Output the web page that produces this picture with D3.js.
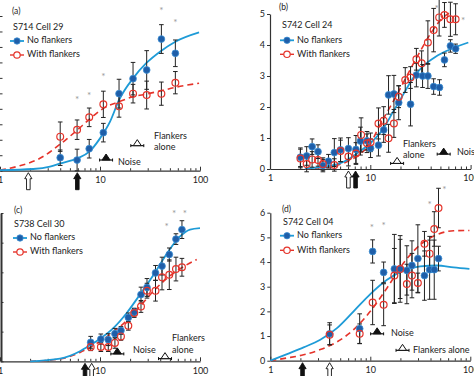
<!DOCTYPE html>
<html>
<head>
<meta charset="utf-8">
<script src="https://cdn.jsdelivr.net/npm/d3@7"></script>
<style>
body { margin: 0; background: #fff; }
text { font-family: Lato, "Open Sans", sans-serif; fill: #222; }
</style>
</head>
<body>
<svg id="chart" width="474" height="376"></svg>
<script>
// ---- text ----
const panelTags = ['(a)', '(b)', '(c)', '(d)'];
const cellNames = ['S714 Cell 29', 'S742 Cell 24', 'S738 Cell 30', 'S742 Cell 04'];
const seriesNames = ['No flankers', 'With flankers'];
const xMajor = [1, 10, 100];
const xMinor = [2, 3, 4, 5, 6, 7, 8, 9, 20, 30, 40, 50, 60, 70, 80, 90];

// ---- (a) S714 Cell 29 ----
const aX = [4.0, 5.9, 7.8, 10.8, 15.5, 21.4, 29.3, 41.1, 56.7];
const aBlue = [0.84, 0.69, 1.42, 2.46, 4.98, 5.95, 6.51, 8.51, 7.59];
const aBlueErr = [0.5, 0.7, 0.6, 0.6, 0.93, 1.05, 1.25, 0.93, 0.86];
const aRed = [2.2, 2.65, 3.45, 4.29, 4.16, 4.98, 4.89, 4.98, 5.69];
const aRedErr = [0.95, 0.63, 0.6, 0.85, 0.7, 0.6, 0.9, 0.75, 0.72];
const aBlueCurve = [[1, 0.04], [2.15, 0.11], [3.16, 0.26], [4.01, 0.47], [5.93, 0.8], [7.82, 1.23], [10, 2.09], [12.6, 3.17], [15.5, 4.57], [21.4, 5.97], [29.3, 6.98], [41.1, 7.76], [56.7, 8.34], [97.9, 8.94]];
const aRedCurve = [[1, 0.04], [1.58, 0.32], [2.51, 0.8], [4.01, 1.72], [5.93, 2.63], [7.82, 3.32], [10.8, 4.03], [15.5, 4.46], [21.4, 4.78], [29.3, 4.96], [41.1, 5.17], [56.7, 5.39], [97.9, 5.65]];
const aStarX = [5.9, 7.8, 10.8, 41.1, 56.7];
const aStarY = [4.61, 4.89, 6.12, 10.39, 9.59];
const aArrows = [[1.92, 'open'], [5.93, 'filled']];
const aNoise = [11.5, 0.69];
const aFlankers = [23.6, 1.62];

// ---- (b) S742 Cell 24 ----
const bBlueX = [2.01, 2.32, 2.63, 3.01, 3.37, 3.83, 4.38, 5.05, 6.05, 7.19, 7.98, 9.27, 10.06, 12.06, 13.6, 15.2, 17.2, 19.2, 25.2, 28.8, 33.2, 37.5, 42.8, 49.0, 54.9, 62.9, 70.9];
const bBlue = [0.38, 0.42, 0.72, 0.56, 0.11, 0.25, 0.53, 0.62, 0.66, 0.63, 0.9, 0.91, 0.67, 0.77, 1.26, 2.39, 2.42, 2.14, 2.09, 3.03, 3.0, 3.0, 2.66, 2.63, 3.52, 3.97, 3.88];
const bBlueErr = [0.3, 0.3, 0.25, 0.22, 0.2, 0.22, 0.45, 0.38, 0.35, 0.45, 0.45, 0.3, 0.3, 0.35, 0.4, 0.62, 0.6, 0.55, 0.7, 0.38, 0.37, 0.4, 0.25, 0.25, 0.22, 0.2, 0.15];
const bRedX = [2.01, 2.32, 2.63, 3.01, 3.37, 4.38, 5.05, 6.05, 7.19, 8.1, 9.27, 10.06, 12.06, 13.6, 15.2, 17.2, 19.2, 22.3, 25.2, 28.8, 32.5, 37.5, 42.8, 48.6, 54.9, 62.9, 70.9];
const bRed = [0.34, 0.16, 0.31, 0.29, 0.16, 0.13, 0.58, 0.4, 0.5, 1.1, 0.83, 0.86, 1.47, 1.56, 0.99, 1.47, 2.33, 2.87, 2.95, 3.54, 3.41, 4.08, 4.48, 4.89, 4.97, 4.83, 4.83];
const bRedErr = [0.3, 0.25, 0.25, 0.2, 0.2, 0.2, 0.35, 0.3, 0.35, 0.55, 0.3, 0.3, 0.5, 0.45, 0.45, 0.45, 0.35, 0.4, 0.35, 0.35, 0.4, 0.7, 0.7, 0.6, 0.4, 0.55, 0.5];
const bBlueCurve = [[2.23, 0.02], [3.5, 0.08], [4.73, 0.16], [5.9, 0.29], [7.4, 0.51], [10, 0.83], [13.5, 1.31], [16.9, 1.85], [21.2, 2.39], [26.5, 2.92], [33.2, 3.3], [44.8, 3.62], [60.6, 3.84], [94.9, 4.08]];
const bRedCurve = [[2.23, 0.01], [4.06, 0.08], [5.9, 0.24], [7.98, 0.5], [10, 0.81], [11.97, 1.31], [14.5, 1.8], [18.0, 2.33], [22.8, 2.96], [31.2, 3.78], [41.1, 4.43], [52.0, 4.86], [65.3, 5.08]];
const bStarX = [45.9, 84.3];
const bStarY = [5.19, 4.8];
const bArrows = [[6.05, 'open'], [7.13, 'filled']];
const bNoise = [53.9, 0.48];
const bFlankers = [18.5, 0.18];

// ---- (c) S738 Cell 30 ----
const cX = [8.07, 10.2, 12.1, 14.1, 16.2, 19.2, 22.0, 25.7, 29.5, 35.9, 41.7, 49.3, 57.5, 66.0];
const cBlue = [0.64, 0.75, 0.73, 0.93, 1.04, 1.48, 1.66, 2.25, 2.49, 2.98, 3.21, 3.6, 4.12, 4.44];
const cBlueErr = [0.2, 0.17, 0.2, 0.18, 0.13, 0.15, 0.13, 0.25, 0.3, 0.25, 0.3, 0.22, 0.18, 0.3];
const cRed = [0.48, 0.48, 0.48, 0.62, 0.84, 1.2, 1.63, 1.85, 2.38, 2.38, 2.83, 2.92, 3.11, 3.17];
const cRedErr = [0.12, 0.15, 0.15, 0.18, 0.13, 0.15, 0.15, 0.2, 0.25, 0.35, 0.42, 0.5, 0.4, 0.3];
const cBlueCurve = [[2.0, 0], [3.98, 0.09], [6.31, 0.34], [7.94, 0.54], [10, 0.76], [13.6, 1.12], [18.5, 1.63], [25.1, 2.25], [34.1, 2.9], [46.4, 3.62], [63.1, 4.21], [79.4, 4.44], [100, 4.49]];
const cRedCurve = [[2.0, 0], [3.98, 0.08], [6.31, 0.3], [7.94, 0.47], [10, 0.67], [13.6, 0.99], [18.5, 1.37], [25.1, 1.85], [34.1, 2.36], [46.4, 2.79], [63.1, 3.12], [92.7, 3.43]];
const cStarX = [46.4, 55.0, 70.8];
const cStarY = [4.57, 5.0, 5.0];
const cArrows = [[7.08, 'filled'], [8.25, 'open']];
const cNoise = [14.9, 0.25];
const cFlankers = [44.7, 0.09];

// ---- (d) S742 Cell 04 ----
const dX = [3.92, 7.83, 10.55, 13.6, 17.4, 19.9, 23.2, 26.1, 29.9, 34.8, 39.2, 43.6, 48.1];
const dBlue = [1.09, 1.3, 4.43, 3.58, 3.72, 3.72, 3.66, 3.86, 4.14, 3.45, 3.69, 3.69, 4.14];
const dBlueErr = [0.45, 0.6, 0.47, 0.42, 1.4, 1.35, 1.0, 1.0, 1.37, 1.0, 1.2, 1.2, 0.5];
const dRed = [1.05, 1.09, 2.36, 2.27, 3.45, 3.72, 3.11, 3.45, 3.15, 4.74, 4.34, 5.34, 6.19];
const dRedErr = [0.4, 0.4, 0.9, 0.85, 1.1, 1.2, 0.8, 0.9, 0.4, 0.5, 0.7, 0.7, 0.8];
const dBlueCurve = [[1, 0], [1.47, 0.27], [2.15, 0.54], [3.16, 0.85], [4.64, 1.32], [6.81, 2.0], [10, 2.7], [14.7, 3.28], [21.5, 3.65], [31.6, 3.82], [46.4, 3.86], [68.1, 3.78], [98, 3.72]];
const dRedCurve = [[1, 0], [1.47, 0.11], [2.15, 0.24], [3.16, 0.45], [4.64, 0.76], [6.81, 1.26], [10, 2.0], [14.7, 2.95], [21.5, 3.96], [31.6, 4.7], [46.4, 5.11], [68.1, 5.27], [98, 5.28]];
const dStarX = [10.4, 13.6, 39.2, 55];
const dStarY = [5.42, 5.49, 6.35, 6.96];
const dArrows = [[2.1, 'filled'], [3.92, 'open']];
const dNoise = [11.7, 1.09];
const dFlankers = [21.0, 0.42];

const BLUE_LINE = '#1e9bd7', BLUE_DOT = '#1f5ea8', BLUE_RIM = '#3b8fd4', RED = '#e5332a';

const svg = d3.select('#chart');

// layout of each panel (pixel geometry + label spots)
const panels = [
  { tag: 0, x0: 0, x1: 200, yBase: 170.7, yTop: 16, yMax: 10, labels: false, yDomain: false,
    blueX: aX, blue: aBlue, blueErr: aBlueErr, redX: aX, red: aRed, redErr: aRedErr,
    blueCurve: aBlueCurve, redCurve: aRedCurve, starX: aStarX, starY: aStarY, arrows: aArrows,
    noise: aNoise, flankers: aFlankers,
    tagPos: [12, 12], namePos: [13, 28], legX: 10, legY: [41, 55],
    noiseText: [118, 163], flankText: [[154, 137, 'Flankers'], [154, 148, 'alone']] },
  { tag: 1, x0: 270, x1: 470.6, yBase: 169, yTop: 14, yMax: 5, labels: true, yDomain: true,
    blueX: bBlueX, blue: bBlue, blueErr: bBlueErr, redX: bRedX, red: bRed, redErr: bRedErr,
    blueCurve: bBlueCurve, redCurve: bRedCurve, starX: bStarX, starY: bStarY, arrows: bArrows,
    noise: bNoise, flankers: bFlankers,
    tagPos: [279, 8], namePos: [282, 26], legX: 280, legY: [40.3, 54.3],
    noiseText: [457, 153], flankText: [[403, 145, 'Flankers'], [403, 156, 'alone']] },
  { tag: 2, x0: 0, x1: 200, yBase: 361.3, yTop: 213, yMax: 5, labels: false, yDomain: true,
    blueX: cX, blue: cBlue, blueErr: cBlueErr, redX: cX, red: cRed, redErr: cRedErr,
    blueCurve: cBlueCurve, redCurve: cRedCurve, starX: cStarX, starY: cStarY, arrows: cArrows,
    noise: cNoise, flankers: cFlankers,
    tagPos: [14, 211], namePos: [14, 225], legX: 13, legY: [238, 252],
    noiseText: [133, 351], flankText: [[172, 339, 'Flankers'], [172, 350.5, 'alone']] },
  { tag: 3, x0: 270.3, x1: 470.3, yBase: 360.7, yTop: 212.7, yMax: 6, labels: true, yDomain: true,
    blueX: dX, blue: dBlue, blueErr: dBlueErr, redX: dX, red: dRed, redErr: dRedErr,
    blueCurve: dBlueCurve, redCurve: dRedCurve, starX: dStarX, starY: dStarY, arrows: dArrows,
    noise: dNoise, flankers: dFlankers,
    tagPos: [282, 210], namePos: [283, 223], legX: 280, legY: [235.7, 250.3],
    noiseText: [391, 334], flankText: [[413, 351, 'Flankers alone']] }
];

function drawPanel(p) {
  const g = svg.append('g');
  const x = d3.scaleLog().domain([1, 100]).range([p.x0, p.x1]);
  const y = d3.scaleLinear().domain([0, p.yMax]).range([p.yBase, p.yTop]);

  // x axis: labels below, ticks pointing up
  const xa = g.append('g').attr('transform', `translate(0,${p.yBase})`)
    .call(d3.axisBottom(x).tickValues(xMajor).tickFormat(d3.format('d')).tickSize(0).tickPadding(6).tickSizeOuter(0));
  xa.select('.domain').attr('stroke', '#333').attr('stroke-width', 1.2);
  xa.selectAll('text').attr('font-size', 9).attr('fill', '#222');
  g.append('g').attr('transform', `translate(0,${p.yBase})`)
    .call(d3.axisTop(x).tickValues(xMinor).tickSize(2.5).tickFormat(''))
    .call(s => s.select('.domain').remove())
    .selectAll('line').attr('stroke', '#333');
  g.append('g').attr('transform', `translate(0,${p.yBase})`)
    .call(d3.axisTop(x).tickValues(xMajor).tickSize(4).tickFormat(''))
    .call(s => s.select('.domain').remove())
    .selectAll('line').attr('stroke', '#333');

  // y axis
  let ya;
  if (p.labels) {
    ya = g.append('g').attr('transform', `translate(${p.x0},0)`)
      .call(d3.axisLeft(y).ticks(p.yMax).tickSize(3).tickPadding(2).tickSizeOuter(0));
    ya.selectAll('text').attr('font-size', 9).attr('fill', '#222');
  } else {
    ya = g.append('g').attr('transform', `translate(${p.x0 + (p.yDomain ? 1 : 0)},0)`)
      .call(d3.axisRight(y).ticks(p.yMax).tickSize(2.5).tickFormat('').tickSizeOuter(0));
  }
  ya.selectAll('line').attr('stroke', '#333');
  if (p.yDomain) ya.select('.domain').attr('stroke', '#333').attr('stroke-width', p.labels ? 1.2 : 2);
  else ya.select('.domain').remove();

  // fitted curves
  const line = d3.line().x(d => x(d[0])).y(d => y(d[1])).curve(d3.curveMonotoneX);
  g.append('path').attr('d', line(p.redCurve)).attr('fill', 'none')
    .attr('stroke', RED).attr('stroke-width', 1.6).attr('stroke-dasharray', '6,4');
  g.append('path').attr('d', line(p.blueCurve)).attr('fill', 'none')
    .attr('stroke', BLUE_LINE).attr('stroke-width', 1.8);

  // error bars
  const bars = [];
  p.blueX.forEach((v, i) => bars.push([v, p.blue[i], p.blueErr[i]]));
  p.redX.forEach((v, i) => bars.push([v, p.red[i], p.redErr[i]]));
  const eb = g.append('g').attr('stroke', '#222').attr('stroke-width', 1);
  eb.selectAll('line.v').data(bars).join('line')
    .attr('x1', d => x(d[0])).attr('x2', d => x(d[0]))
    .attr('y1', d => y(d[1] - d[2])).attr('y2', d => y(d[1] + d[2]));
  eb.selectAll('line.t').data(bars.concat(bars.map(d => [d[0], d[1], -d[2]]))).join('line')
    .attr('x1', d => x(d[0]) - 2.3).attr('x2', d => x(d[0]) + 2.3)
    .attr('y1', d => y(d[1] + d[2])).attr('y2', d => y(d[1] + d[2]));

  // points
  g.append('g').selectAll('circle').data(p.blueX.map((v, i) => [v, p.blue[i]])).join('circle')
    .attr('cx', d => x(d[0])).attr('cy', d => y(d[1])).attr('r', 3.4)
    .attr('fill', BLUE_DOT).attr('stroke', BLUE_RIM).attr('stroke-width', 0.8);
  g.append('g').selectAll('circle').data(p.redX.map((v, i) => [v, p.red[i]])).join('circle')
    .attr('cx', d => x(d[0])).attr('cy', d => y(d[1])).attr('r', 3.4)
    .attr('fill', 'none').attr('stroke', RED).attr('stroke-width', 1.2);

  // significance stars
  g.append('g').selectAll('text').data(p.starX.map((v, i) => [v, p.starY[i]])).join('text')
    .attr('x', d => x(d[0])).attr('y', d => y(d[1]) + 4).attr('text-anchor', 'middle')
    .attr('font-size', 10).style('fill', '#999').text('*');

  // arrows under the x axis
  p.arrows.forEach(([v, kind]) => {
    const cx = x(v), t = p.yBase + 2;
    const path = `M${cx},${t} L${cx + 3.6},${t + 6} L${cx + 1.8},${t + 6} L${cx + 1.8},${t + 17} L${cx - 1.8},${t + 17} L${cx - 1.8},${t + 6} L${cx - 3.6},${t + 6} Z`;
    g.append('path').attr('d', path)
      .attr('fill', kind === 'filled' ? '#111' : '#fff').attr('stroke', '#111').attr('stroke-width', 0.9);
  });

  // noise / flankers-alone markers
  [[p.noise, '#111'], [p.flankers, '#fff']].forEach(([m, fill]) => {
    const cx = x(m[0]), cy = y(m[1]);
    g.append('line').attr('x1', cx - 6.5).attr('x2', cx + 6.5).attr('y1', cy).attr('y2', cy)
      .attr('stroke', '#111').attr('stroke-width', 1.2);
    [-6.5, 6.5].forEach(o => g.append('line').attr('x1', cx + o).attr('x2', cx + o)
      .attr('y1', cy - 1.5).attr('y2', cy + 1.5).attr('stroke', '#111'));
    g.append('path').attr('d', `M${cx},${cy - 6} L${cx + 4},${cy} L${cx - 4},${cy} Z`)
      .attr('fill', fill).attr('stroke', '#111').attr('stroke-width', 1);
  });
  g.append('text').attr('x', p.noiseText[0]).attr('y', p.noiseText[1])
    .attr('dominant-baseline', 'middle').attr('font-size', 9).text('Noise');
  p.flankText.forEach(t => g.append('text').attr('x', t[0]).attr('y', t[1])
    .attr('dominant-baseline', 'middle').attr('font-size', 9).text(t[2]));

  // panel tag, cell name, legend
  g.append('text').attr('x', p.tagPos[0]).attr('y', p.tagPos[1])
    .attr('dominant-baseline', 'middle').attr('font-size', 8.5).text(panelTags[p.tag]);
  g.append('text').attr('x', p.namePos[0]).attr('y', p.namePos[1])
    .attr('dominant-baseline', 'middle').attr('font-size', 9).text(cellNames[p.tag]);
  seriesNames.forEach((name, i) => {
    const ly = p.legY[i], lx = p.legX;
    if (i === 0) {
      g.append('line').attr('x1', lx).attr('x2', lx + 14).attr('y1', ly).attr('y2', ly)
        .attr('stroke', BLUE_LINE).attr('stroke-width', 1.8);
      g.append('circle').attr('cx', lx + 7).attr('cy', ly).attr('r', 3.2)
        .attr('fill', BLUE_DOT).attr('stroke', BLUE_RIM).attr('stroke-width', 0.8);
    } else {
      g.append('line').attr('x1', lx).attr('x2', lx + 14).attr('y1', ly).attr('y2', ly)
        .attr('stroke', RED).attr('stroke-width', 1.4);
      g.append('circle').attr('cx', lx + 7).attr('cy', ly).attr('r', 3.2)
        .attr('fill', '#fff').attr('stroke', RED).attr('stroke-width', 1.2);
    }
    g.append('text').attr('x', lx + 17).attr('y', ly).attr('dominant-baseline', 'middle')
      .attr('font-size', 9).text(name);
  });
}

panels.forEach(drawPanel);
</script>
</body>
</html>
